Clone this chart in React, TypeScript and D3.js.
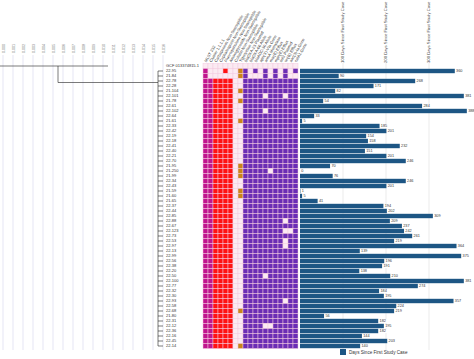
import React, { useEffect, useRef } from 'react';
import * as d3 from 'd3';

const reference = 'GCF 013374815.1';

const samples = [
  '22-95', '21-84', '22-78', '22-28', '21-104', '22-101', '21-78', '22-61', '22-102', '22-64',
  '21-61', '22-33', '22-42', '22-19', '22-18', '22-41', '22-40', '22-21', '22-70', '21-95',
  '21-250', '21-99', '22-34', '22-43', '21-59', '21-60', '21-65', '22-37', '22-44', '22-85',
  '22-88', '22-67', '22-123', '22-73', '22-53', '22-97', '22-13', '22-99', '22-56', '22-38',
  '22-20', '22-50', '22-100', '22-77', '22-32', '22-30', '22-93', '22-58', '22-68', '21-80',
  '22-31', '22-12', '22-36', '22-16', '22-45', '22-14',
];

const days = [
  360, 90, 268, 171, 82, 381, 54, 284, 388, 33,
  5, 185, 201, 154, 158, 232, 151, 201, 246, 70,
  0, 76, 246, 201, 1, 5, 41, 194, 202, 309,
  209, 237, 242, 261, 219, 364, 139, 375, 196, 191,
  138, 210, 381, 274, 184, 195, 357, 224, 219, 56,
  182, 195, 182, 144, 203, 140,
];

const genes = [
  'MLST 232', 'Cluster 1.1.1.1', 'Carbapenem Non-Susceptible', 'Cephalosporin Non-Susceptible',
  'Fluoroquinolone Non-Susceptible', 'Aminoglycoside Non-Susceptible', 'Colistin Non-Susceptible',
  'Tigecycline Non-Susceptible', 'blaOXA-23 Plasmid', 'blaOXA-66 Allele', 'blaADC-30 Allele',
  'aph(3\')-VIa Gene', 'armA Methylase', 'msr(E) Efflux', 'mph(E) Efflux', 'sul2 Plasmid',
  'tet(B) Efflux', 'aac(3)-Ia Gene', 'catA1 Gene',
];
// M magenta, R red, O orange, P purple, L light (never present)
const geneGroup = ['M', 'M', 'R', 'R', 'R', 'R', 'L', 'O', 'P', 'P', 'P', 'P', 'P', 'P', 'P', 'P', 'P', 'P', 'P'];

// one string per row (reference first), 1 = present
const presence = [
  '0000000000000000000',
  '1000100110101010101',
  '1000000110001010100',
  '1111110011111111111',
  '1111110011111111111',
  '1111110111111111111',
  '1111110011110111011',
  '1111110111111111111',
  '1111110011111111111',
  '1111110011110111111',
  '1111110011111111111',
  '1111110111111111111',
  '1111110011111111111',
  '1111110011111111111',
  '1111110011111111111',
  '1111110011111111111',
  '1111110011111111111',
  '1111110011111111111',
  '1111110011111111111',
  '1111110011111111111',
  '1111110111111111111',
  '1111110111111011111',
  '1111110111111111111',
  '1111110011111111111',
  '1111110011111111111',
  '1111110111111111111',
  '1111110111111111111',
  '1111110011111111111',
  '1111110011111111111',
  '1111110011111111111',
  '1111110011111111111',
  '1111110011111111011',
  '1111110011111111111',
  '1111110011111111001',
  '1111110011111111111',
  '1111110011111111011',
  '1111110011111111011',
  '1111110011111111111',
  '1111110011111111111',
  '1111110011111111111',
  '1111110011111111111',
  '1111110011111111111',
  '1111110011110111111',
  '1111110011111111111',
  '1111110011111111111',
  '1111110011111111111',
  '1111110011111111111',
  '1111110011111111011',
  '1111110011111111111',
  '1111110111111111111',
  '1111110011111111111',
  '1111110011111111111',
  '1111110011110011111',
  '1111110011111111111',
  '1111110011111111111',
  '1111110011111111111',
  '1111110111111111111',
];

const dayTicks = [100, 200, 300];
const treeTicks = d3.range(0, 0.0165, 0.001);

const groupColor: Record<string, string> = {
  M: '#c0168e', R: '#ff1212', O: '#c98418', P: '#6b2db4', L: '#fbe9f1',
};

function App() {
  const ref = useRef<SVGSVGElement>(null);

  useEffect(() => {
    const svg = d3.select(ref.current);
    svg.selectAll('*').remove();
    const font = 'Liberation Sans, Arial, sans-serif';
    const rows = [reference, ...samples];

    const y = d3.scaleBand<number>().domain(d3.range(rows.length)).range([63.5, 348.5]);
    const rowY = (i: number) => y(i)! + y.bandwidth() / 2;

    // tree axis + grid
    const tx = d3.scaleLinear().domain([0, 0.016]).range([3, 163]);
    const grid = svg.append('g');
    grid.selectAll('line').data(treeTicks).join('line')
      .attr('x1', d => tx(d)).attr('x2', d => tx(d))
      .attr('y1', 55).attr('y2', 350)
      .attr('stroke', '#d3d3ec').attr('stroke-width', 0.6);
    grid.selectAll('text').data(treeTicks).join('text')
      .attr('transform', d => `translate(${tx(d) + 1.5},53) rotate(-90)`)
      .attr('font-size', 3.6).attr('fill', '#777').attr('font-family', font)
      .text(d => d3.format('.3f')(d));

    // tree: root node -> reference tip and a tight clade of samples
    const tree = svg.append('g').attr('stroke', '#222').attr('stroke-width', 0.6).attr('fill', 'none');
    const rootY = rowY(0);
    const cladeY = rowY(3) + 1.5;
    const node = tx(0.0055);
    const clade = tx(0.0155);
    tree.append('path').attr('d', `M0,${rootY}H${tx(0.0105)}`);
    tree.append('path').attr('d', `M${node},${rootY}V${cladeY}H${clade}`);
    tree.append('path').attr('d', `M${clade},${rowY(1)}V${rowY(rows.length - 1)}`);
    rows.slice(1).forEach((_, i) => {
      tree.append('path').attr('d', `M${clade},${rowY(i + 1)}H${tx(0.016)}`);
    });

    // tip labels
    svg.append('g').selectAll('text').data(rows).join('text')
      .attr('x', 166).attr('y', (_, i) => rowY(i) + 1.3)
      .attr('font-size', 4).attr('fill', '#333').attr('font-family', font)
      .text(d => d);

    // heatmap
    const x = d3.scaleBand<number>().domain(d3.range(genes.length)).range([203, 298]);
    const cells = rows.flatMap((_, r) => genes.map((_, c) => ({ r, c, on: presence[r][c] === '1' })));
    svg.append('g').selectAll('rect').data(cells).join('rect')
      .attr('x', d => x(d.c)!).attr('y', d => y(d.r)!)
      .attr('width', x.bandwidth()).attr('height', y.bandwidth())
      .attr('fill', d => (d.on && geneGroup[d.c] !== 'L' ? groupColor[geneGroup[d.c]] : '#fbeaf2'))
      .attr('stroke', '#f3c9df').attr('stroke-width', 0.5);

    svg.append('g').selectAll('text').data(genes).join('text')
      .attr('transform', (_, i) => `translate(${x(i)! + 3.5},${y(0)! - 1}) rotate(-60)`)
      .attr('font-size', 4).attr('fill', '#333').attr('font-family', font)
      .text(d => d);

    // bars
    const bx = d3.scaleLinear().domain([0, 100]).range([300, 343]);
    svg.append('g').selectAll('line').data(dayTicks).join('line')
      .attr('x1', d => bx(d)).attr('x2', d => bx(d))
      .attr('y1', 63).attr('y2', 350)
      .attr('stroke', '#ddd').attr('stroke-width', 0.6);
    svg.append('g').selectAll('text').data(dayTicks).join('text')
      .attr('transform', d => `translate(${bx(d) + 1.4},63) rotate(-90)`)
      .attr('font-size', 4.2).attr('fill', '#444').attr('font-family', font)
      .text(d => `${d} Days Since First Study Case`);

    const by = (i: number) => y(i + 1)!;
    svg.append('g').selectAll('rect').data(days).join('rect')
      .attr('x', bx(0)).attr('y', (_, i) => by(i) + 0.3)
      .attr('width', d => bx(d) - bx(0)).attr('height', y.bandwidth() - 0.6)
      .attr('fill', '#1d5684');

    const lab = svg.append('g').selectAll('g').data(days).join('g')
      .attr('transform', (d, i) => `translate(${bx(d) + 0.5},${by(i) + y.bandwidth() / 2})`);
    lab.append('rect').attr('x', 0).attr('y', -2).attr('height', 4)
      .attr('width', d => String(d).length * 2.3 + 1.5).attr('fill', 'white');
    lab.append('text').attr('x', 0.8).attr('y', 1.4)
      .attr('font-size', 3.8).attr('fill', '#333').attr('font-family', font)
      .text(d => d);

    // legend
    const lg = svg.append('g').attr('transform', 'translate(340,349)');
    lg.append('rect').attr('width', 6).attr('height', 6).attr('fill', '#1d5684');
    lg.append('text').attr('x', 9).attr('y', 4.8)
      .attr('font-size', 4.6).attr('fill', '#333').attr('font-family', font)
      .text('Days Since First Study Case');
  }, []);

  return (
    <svg ref={ref} width={474} height={359}
      style={{ position: 'absolute', left: 0, top: 0, background: 'white' }} />
  );
}

export default App;
